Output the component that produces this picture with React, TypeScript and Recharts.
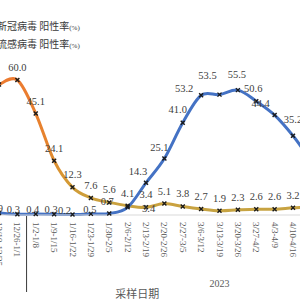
import React from 'react';
import { LineChart, Line, XAxis, YAxis, LabelList, Legend } from 'recharts';

// ---- data ----
const categories = [
  '12/19-12/25', '12/26-1/1', '1/2-1/8', '1/9-1/15', '1/16-1/22', '1/23-1/29',
  '1/30-2/5', '2/6-2/12', '2/13-2/19', '2/20-2/26', '2/27-3/5', '3/6-3/12',
  '3/13-3/19', '3/20-3/26', '3/27-4/2', '4/3-4/9', '4/10-4/16', '4/17-4/23',
];
const covidRate = [58.0, 60.0, 45.1, 24.1, 12.3, 7.6, 5.6, 4.1, 3.4, 5.1, 3.8, 2.7, 1.9, 2.3, 2.6, 2.6, 3.2, 3.6];
const fluRate = [0.9, 0.3, 0.4, 0.3, 0.2, 0.5, 0.7, 3.4, 14.3, 25.1, 41.0, 53.2, 53.5, 55.5, 50.6, 44.4, 35.2, 24.0];
const seriesNames = ['新冠病毒 阳性率', '流感病毒 阳性率'];
const unitText = '(%)';
const groupLabel = '2023';
const axisTitle = '采样日期';

const data = categories.map((c, i) => ({ period: c, covid: covidRate[i], flu: fluRate[i] }));

// ---- layout / style ----
const STEP = 18.375;
const N = categories.length;
const CHART_W = STEP * (N - 1);
const CHART_H = 300;
const TOP = 57.5;
const AXIS_H = 85;
const PLOT_BOTTOM = CHART_H - AXIS_H;
const GROUP_START = 2; // first category of the 2023 group
const GROUP_LABEL_AT = 12;
const HIDDEN_LABELS = { covid: [0, N - 1], flu: [N - 1] };

const SERIF = "'Liberation Serif', 'DejaVu Serif', serif";
const CJK = "'Noto Sans CJK SC', 'Noto Sans', sans-serif";
const LABEL_COLOR = '#404040';

const covidShift = { dx: 0, dy: -9 };
const fluShift: [number, number][] = [
  [-2.5, -1], [-4, -1], [-3, -1], [-3, -1], [-8, -1], [-1, -1], [-2, -8], [21, 5],
  [-8, -8], [-5, -8], [-5, -10], [-17, -3], [-12, -16], [-1, -12], [-3, -9], [-14, -8], [0, -13], [0, -10],
];

// Excel-like smoothed line (Catmull-Rom through points)
const excelSmooth = (context: any) => {
  let pts: number[][] = [];
  return {
    areaStart() {},
    areaEnd() {},
    lineStart() {
      pts = [];
    },
    point(x: number, y: number) {
      pts.push([+x, +y]);
    },
    lineEnd() {
      const n = pts.length;
      if (!n) return;
      context.moveTo(pts[0][0], pts[0][1]);
      const t = 1 / 6;
      for (let i = 0; i < n - 1; i++) {
        const p0 = pts[i > 0 ? i - 1 : i];
        const p1 = pts[i];
        const p2 = pts[i + 1];
        const p3 = pts[i + 2 < n ? i + 2 : i + 1];
        context.bezierCurveTo(
          p1[0] + (p2[0] - p0[0]) * t,
          p1[1] + (p2[1] - p0[1]) * t,
          p2[0] - (p3[0] - p1[0]) * t,
          p2[1] - (p3[1] - p1[1]) * t,
          p2[0],
          p2[1]
        );
      }
    },
  };
};

const XDot = (props: any) => {
  const { cx, cy } = props;
  if (cx == null || cy == null) return null;
  const r = 2;
  return (
    <path
      d={`M${cx - r},${cy - r}L${cx + r},${cy + r}M${cx - r},${cy + r}L${cx + r},${cy - r}`}
      stroke="#1a1a1a"
      strokeWidth={1.4}
      fill="none"
    />
  );
};

const makeLabel = (kind: 'covid' | 'flu') => (props: any) => {
  const { x, y, value, index } = props;
  if (x == null || HIDDEN_LABELS[kind].includes(index)) return null;
  const [dx, dy] = kind === 'covid' ? [covidShift.dx, covidShift.dy] : fluShift[index] || [0, -9];
  return (
    <text
      x={x + dx}
      y={y + dy}
      textAnchor="middle"
      fontSize={10.5}
      fontFamily={SERIF}
      fill={LABEL_COLOR}
    >
      {Number(value).toFixed(1)}
    </text>
  );
};

const PeriodTick = (props: any) => {
  const { x, payload } = props;
  const idx = payload?.index;
  return (
    <g>
      <text
        transform={`translate(${x},${PLOT_BOTTOM + 7}) rotate(90)`}
        textAnchor="start"
        dominantBaseline="central"
        fontSize={9}
        fontFamily={SERIF}
        fill="#595959"
      >
        {payload.value}
      </text>
      {idx === GROUP_START && (
        <line
          x1={x - STEP / 2}
          x2={x - STEP / 2}
          y1={PLOT_BOTTOM + 1}
          y2={PLOT_BOTTOM + 77}
          stroke="#3a3a3a"
          strokeWidth={1}
        />
      )}
      {idx === GROUP_LABEL_AT && (
        <text x={x} y={PLOT_BOTTOM + 72} textAnchor="middle" fontSize={10} fontFamily={SERIF} fill="#595959">
          {groupLabel}
        </text>
      )}
    </g>
  );
};

const colors = { covid: '#ED7D31', flu: '#4472C4' };

const LegendContent = () => (
  <div style={{ display: 'flex', flexDirection: 'column' }}>
    {seriesNames.map((name, i) => (
      <div key={name} style={{ display: 'flex', alignItems: 'center', height: 18, whiteSpace: 'nowrap' }}>
        <svg width={26} height={10} style={{ marginRight: 4 }}>
          <line x1={0} x2={26} y1={5} y2={5} stroke={i === 0 ? colors.covid : colors.flu} strokeWidth={3} />
        </svg>
        <span style={{ fontFamily: CJK, fontSize: 10, color: '#3a3a3a' }}>
          {name}
          <span style={{ fontFamily: SERIF, fontSize: 7 }}>{unitText}</span>
        </span>
      </div>
    ))}
  </div>
);

export default function App() {
  return (
    <div style={{ position: 'fixed', left: 0, top: 0, width: 300, height: 300, overflow: 'hidden', background: '#fff' }}>
      <div style={{ position: 'absolute', left: -1, top: 0 }}>
        <LineChart width={CHART_W} height={CHART_H} data={data} margin={{ top: TOP, right: 0, bottom: 0, left: 0 }}>
          <defs>
            <linearGradient id="covidGrad" x1="0" y1="80" x2="0" y2="212" gradientUnits="userSpaceOnUse">
              <stop offset="0" stopColor="#EC7B30" />
              <stop offset="0.5" stopColor="#E5842D" />
              <stop offset="0.78" stopColor="#D49A34" />
              <stop offset="1" stopColor="#C6A443" />
            </linearGradient>
          </defs>
          <XAxis
            dataKey="period"
            interval={0}
            height={AXIS_H}
            tickLine={false}
            axisLine={{ stroke: '#d9d9d9' }}
            tick={<PeriodTick />}
            padding={{ left: 0, right: 0 }}
            label={{
              value: axisTitle,
              position: 'insideBottom',
              offset: 2,
              dx: -18,
              style: { fontFamily: CJK, fontSize: 11, fill: '#595959' },
            }}
          />
          <YAxis hide domain={[0, 70]} />
          <Legend
            layout="vertical"
            align="center"
            verticalAlign="middle"
            content={<LegendContent />}
            wrapperStyle={{ top: 16, left: -32, width: 'auto' }}
          />
          <Line
            name={seriesNames[0]}
            dataKey="covid"
            type={excelSmooth as any}
            stroke="url(#covidGrad)"
            strokeWidth={3}
            dot={<XDot />}
            activeDot={false}
            isAnimationActive={false}
          >
            <LabelList dataKey="covid" content={makeLabel('covid')} />
          </Line>
          <Line
            name={seriesNames[1]}
            dataKey="flu"
            type={excelSmooth as any}
            stroke={colors.flu}
            strokeWidth={3}
            dot={<XDot />}
            activeDot={false}
            isAnimationActive={false}
          >
            <LabelList dataKey="flu" content={makeLabel('flu')} />
          </Line>
        </LineChart>
      </div>
    </div>
  );
}
